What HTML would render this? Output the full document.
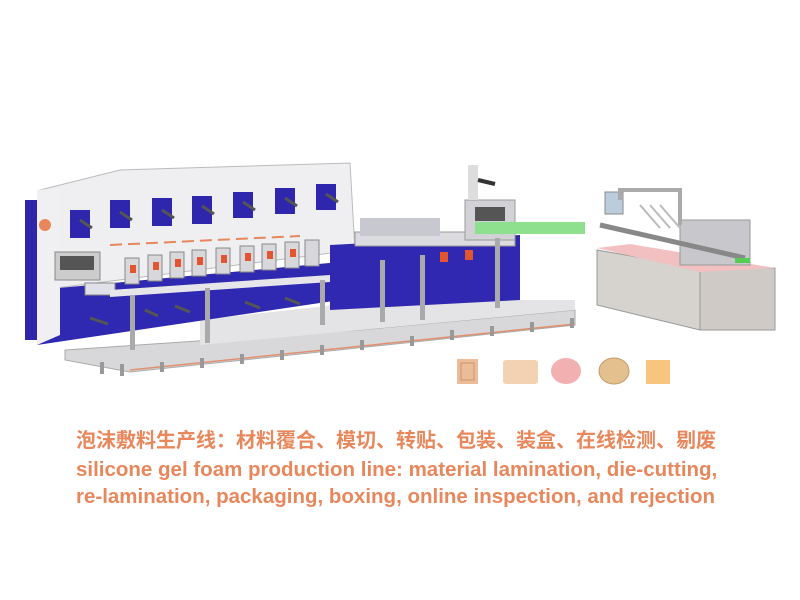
<!DOCTYPE html>
<html><head><meta charset="utf-8"><style>
body{margin:0;background:#fff;width:800px;height:600px;overflow:hidden;position:relative}
.t{position:absolute;left:76px;font-family:"Liberation Sans","Noto Sans CJK SC",sans-serif;font-weight:bold;font-size:20.5px;color:#e8875c;white-space:nowrap;letter-spacing:0px;line-height:24px}
</style></head><body>
<svg width="800" height="600" style="position:absolute;left:0;top:0">
<polygon points="65,350 360,330 575,310 575,325 130,372 65,360" fill="#d8d8da" stroke="#aaa"/>
<polygon points="200,345 575,310 575,300 380,300 200,320" fill="#e4e4e6"/>
<line x1="130" y1="370" x2="575" y2="324" stroke="#e09070" stroke-width="1.5"/>
<g fill="#999">
<rect x="100" y="362" width="4" height="12"/><rect x="120" y="364" width="4" height="12"/><rect x="160" y="362" width="4" height="10"/><rect x="200" y="358" width="4" height="10"/><rect x="240" y="354" width="4" height="10"/><rect x="280" y="350" width="4" height="10"/><rect x="320" y="345" width="4" height="10"/><rect x="360" y="340" width="4" height="10"/><rect x="410" y="336" width="4" height="10"/><rect x="450" y="330" width="4" height="10"/><rect x="490" y="326" width="4" height="10"/><rect x="530" y="322" width="4" height="10"/><rect x="570" y="318" width="4" height="10"/></g>
<polygon points="40,190 120,170 350,163 355,250 40,290" fill="#efeff2" stroke="#bbb"/>
<rect x="25" y="200" width="12" height="140" fill="#2e25a8"/>
<polygon points="37,290 340,262 340,300 37,345" fill="#2f28b0"/>
<polygon points="37,190 60,188 60,335 37,345" fill="#f0f0f2"/>
<g fill="#2e27ad">
<rect x="70" y="210" width="20" height="28"/><rect x="110" y="200" width="20" height="28"/><rect x="152" y="198" width="20" height="28"/><rect x="192" y="196" width="20" height="28"/><rect x="233" y="192" width="20" height="26"/><rect x="275" y="188" width="20" height="26"/><rect x="316" y="184" width="20" height="26"/></g>
<g stroke="#555" stroke-width="3">
<line x1="80" y1="220" x2="92" y2="228"/><line x1="120" y1="212" x2="132" y2="220"/><line x1="162" y1="210" x2="174" y2="218"/><line x1="202" y1="206" x2="214" y2="214"/><line x1="243" y1="202" x2="255" y2="210"/><line x1="285" y1="198" x2="297" y2="206"/><line x1="326" y1="194" x2="338" y2="202"/>
<line x1="90" y1="318" x2="108" y2="324"/><line x1="145" y1="310" x2="158" y2="316"/><line x1="175" y1="306" x2="190" y2="312"/><line x1="245" y1="302" x2="260" y2="308"/><line x1="285" y1="298" x2="300" y2="304"/><line x1="330" y1="292" x2="345" y2="298"/></g>
<circle cx="45" cy="225" r="6" fill="#e8875c"/>
<rect x="55" y="252" width="45" height="28" fill="#ccc" stroke="#888"/><rect x="60" y="256" width="34" height="14" fill="#555"/>
<rect x="85" y="283" width="30" height="12" fill="#e0e0e8" stroke="#888"/>
<line x1="110" y1="245" x2="300" y2="236" stroke="#e8875c" stroke-width="2" stroke-dasharray="12 6"/>
<g fill="#d8d8dc" stroke="#888">
<rect x="125" y="258" width="14" height="26"/><rect x="148" y="255" width="14" height="26"/><rect x="170" y="252" width="14" height="26"/><rect x="192" y="250" width="14" height="26"/><rect x="216" y="248" width="14" height="26"/><rect x="240" y="246" width="14" height="26"/><rect x="262" y="244" width="14" height="26"/><rect x="285" y="242" width="14" height="26"/><rect x="305" y="240" width="14" height="26"/></g>
<g fill="#e2552e"><rect x="130" y="265" width="6" height="8"/><rect x="153" y="262" width="6" height="8"/><rect x="175" y="259" width="6" height="8"/><rect x="197" y="257" width="6" height="8"/><rect x="221" y="255" width="6" height="8"/><rect x="245" y="253" width="6" height="8"/><rect x="267" y="251" width="6" height="8"/><rect x="290" y="249" width="6" height="8"/></g>
<polygon points="110,290 330,275 330,282 110,297" fill="#e6e6ea"/>
<rect x="130" y="295" width="5" height="55" fill="#aaa"/><rect x="205" y="288" width="5" height="55" fill="#aaa"/><rect x="320" y="280" width="5" height="45" fill="#aaa"/>
<polygon points="330,245 520,235 520,300 330,310" fill="#3028b0"/>
<rect x="355" y="232" width="160" height="14" fill="#dcdce0" stroke="#999"/>
<rect x="360" y="218" width="80" height="18" fill="#c8c8d0"/>
<rect x="465" y="200" width="50" height="40" fill="#d2d2d6" stroke="#999"/><rect x="475" y="207" width="30" height="14" fill="#555"/>
<rect x="468" y="165" width="10" height="35" fill="#ddd"/><line x1="478" y1="180" x2="495" y2="184" stroke="#333" stroke-width="4"/>
<rect x="475" y="222" width="110" height="12" fill="#8ee08e"/>
<rect x="495" y="238" width="5" height="70" fill="#aaa"/><rect x="420" y="255" width="5" height="65" fill="#aaa"/><rect x="380" y="260" width="5" height="62" fill="#aaa"/>
<rect x="440" y="252" width="8" height="10" fill="#e2552e"/><rect x="465" y="250" width="8" height="10" fill="#e2552e"/>
<polygon points="597,250 700,268 700,330 597,305" fill="#d6d3cf" stroke="#999"/>
<rect x="700" y="268" width="75" height="62" fill="#cfcac5" stroke="#999"/>
<polygon points="597,248 630,244 775,268 700,272" fill="#f2c0c0"/>
<rect x="680" y="220" width="70" height="45" fill="#c8c8cc" stroke="#999"/>
<rect x="605" y="192" width="18" height="22" fill="#bcd" stroke="#888"/>
<polyline points="620,200 620,190 680,190 680,225" fill="none" stroke="#aaa" stroke-width="4"/>
<line x1="600" y1="225" x2="745" y2="258" stroke="#888" stroke-width="5"/>
<rect x="735" y="258" width="15" height="5" fill="#5c5"/>
<line x1="640" y1="205" x2="660" y2="228" stroke="#bbb" stroke-width="2"/><line x1="650" y1="205" x2="670" y2="228" stroke="#bbb" stroke-width="2"/><line x1="660" y1="205" x2="680" y2="228" stroke="#bbb" stroke-width="2"/>
<rect x="457" y="359" width="21" height="25" fill="#ebbc98"/><rect x="461" y="363" width="13" height="17" fill="none" stroke="#c9966e"/>
<rect x="503" y="360" width="35" height="24" rx="3" fill="#f3d2b3"/>
<ellipse cx="566" cy="371" rx="15" ry="13" fill="#f2b0b0"/>
<ellipse cx="614" cy="371" rx="15" ry="13" fill="#e3c08e" stroke="#c29a66"/>
<rect x="646" y="360" width="24" height="24" fill="#f8c57e"/>
</svg>
<div class="t" style="top:429px;font-size:20px">泡沫敷料生产线：材料覆合、模切、转贴、包装、装盒、在线检测、剔废</div>
<div class="t" style="top:458px">silicone gel foam production line: material lamination, die-cutting,</div>
<div class="t" style="top:485px">re-lamination, packaging, boxing, online inspection, and rejection</div>
</body></html>
